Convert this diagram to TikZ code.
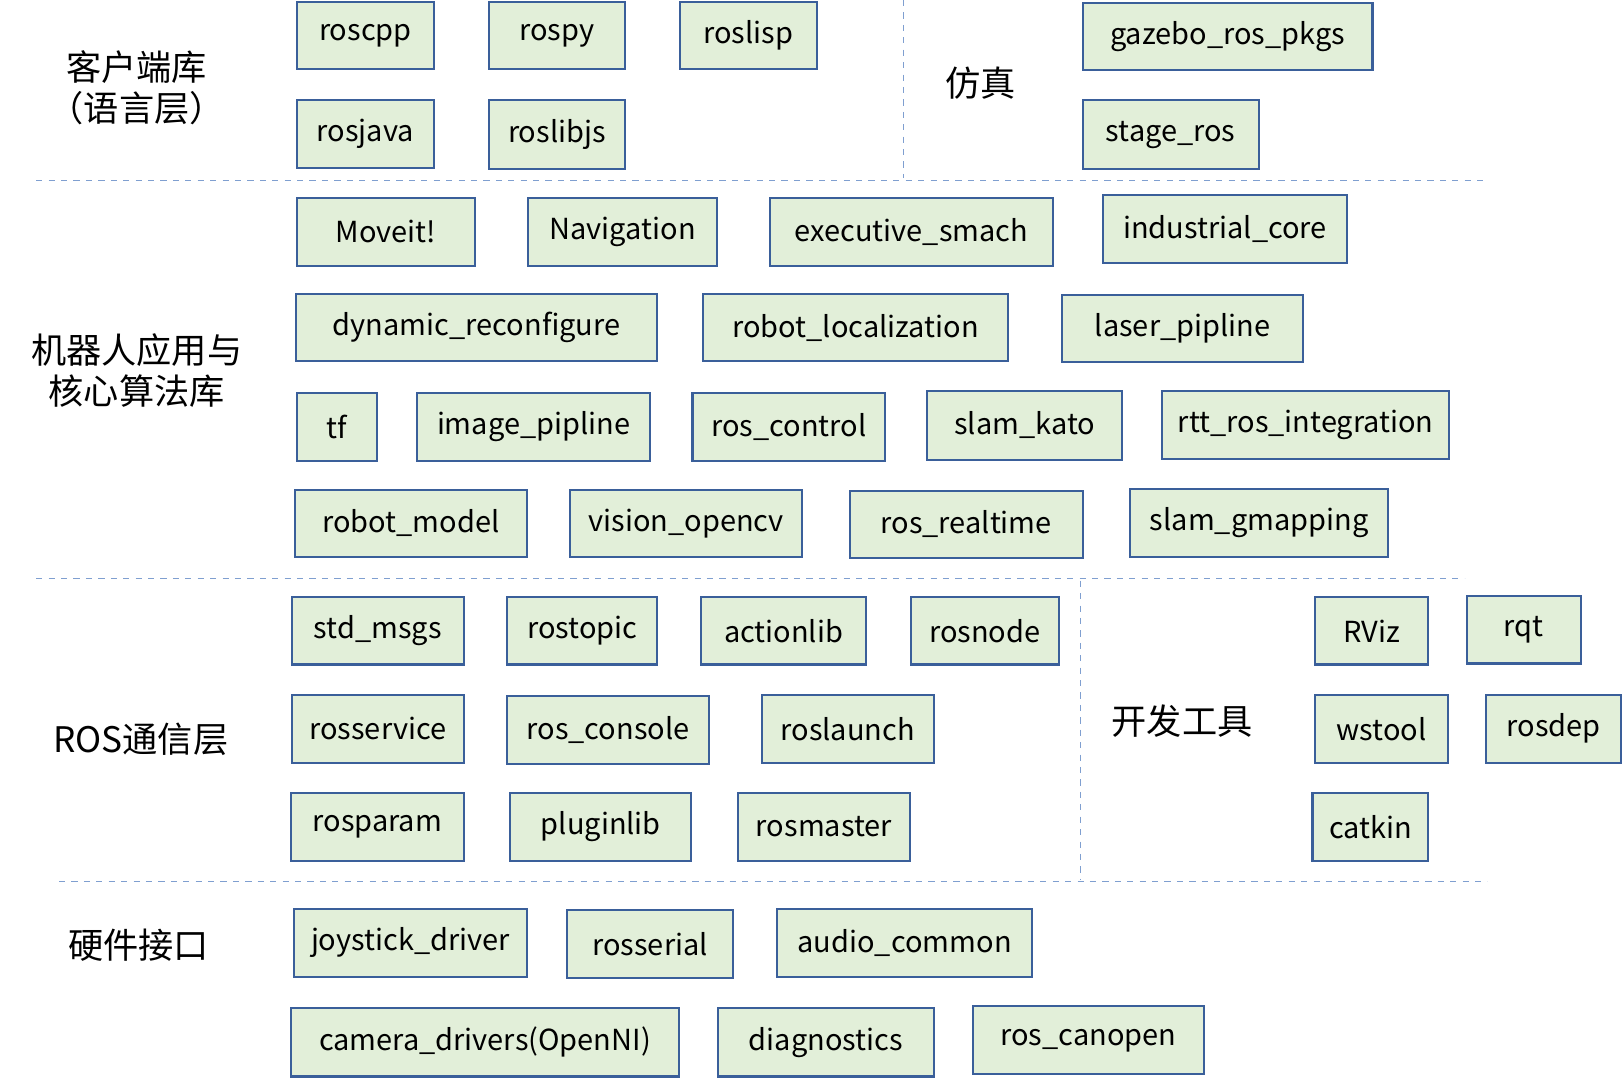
\documentclass[tikz,border=0pt]{standalone}
\usepackage{fontspec}
\setmainfont{Noto Sans CJK SC}
\definecolor{bfill}{HTML}{E2EFD9}
\definecolor{bdraw}{HTML}{3A5F9A}
\definecolor{dline}{HTML}{7F9FD0}
\tikzset{box/.style={draw=bdraw,fill=bfill,line width=1pt,inner sep=0pt,font=\fontsize{14}{16}\selectfont},
 sep/.style={draw=dline,dashed,line width=0.5pt},
 lab/.style={font=\fontsize{17}{20}\selectfont,align=center}}
\newcommand{\bx}[6]{\node[box,minimum width={(#4-#2)/2*1pt},minimum height={(#5-#3)/2*1pt}] (#1) at ({(#2+#4)/2},{(#3+#5)/2}) {#6};}
\begin{document}
\begin{tikzpicture}[x=0.5pt,y=-0.5pt]
\useasboundingbox (0,0) rectangle (1568,1047);
\coordinate (h1a) at (35,174); \coordinate (h1b) at (1433,174);
\coordinate (v1a) at (873,0); \coordinate (v1b) at (873,172);
\coordinate (h2a) at (35,559); \coordinate (h2b) at (1415,559);
\coordinate (v2a) at (1044,561); \coordinate (v2b) at (1044,850);
\coordinate (h3a) at (57,852); \coordinate (h3b) at (1437,852);
\draw[sep] (h1a)--(h1b); \draw[sep] (v1a)--(v1b); \draw[sep] (h2a)--(h2b);
\draw[sep] (v2a)--(v2b); \draw[sep] (h3a)--(h3b);
\node[lab] (l1) at (132,85) {客户端库\\（语言层）};
\node[lab] (l2) at (947,80) {仿真};
\node[lab] (l3) at (132,358) {机器人应用与\\核心算法库};
\node[lab] (l4) at (136,714) {ROS通信层};
\node[lab] (l5) at (1142,697) {开发工具};
\node[lab] (l6) at (134,913) {硬件接口};
\bx{a1}{287}{2}{419}{67}{roscpp}
\bx{a2}{472}{2}{604}{67}{rospy}
\bx{a3}{657}{2}{789}{67}{roslisp}
\bx{a4}{287}{97}{419}{162}{rosjava}
\bx{a5}{472}{97}{604}{163}{roslibjs}
\bx{a6}{1046}{3}{1326}{68}{gazebo\_ros\_pkgs}
\bx{a7}{1046}{97}{1216}{163}{stage\_ros}
\bx{b1}{287}{191}{459}{257}{Moveit!}
\bx{b2}{510}{191}{693}{257}{Navigation}
\bx{b3}{744}{191}{1017}{257}{executive\_smach}
\bx{b4}{1066}{188}{1301}{254}{industrial\_core}
\bx{b5}{286}{284}{635}{349}{dynamic\_reconfigure}
\bx{b6}{679}{284}{974}{349}{robot\_localization}
\bx{b7}{1026}{285}{1259}{350}{laser\_pipline}
\bx{b8}{287}{380}{364}{445}{tf}
\bx{b9}{403}{380}{628}{445}{image\_pipline}
\bx{b10}{669}{380}{855}{445}{ros\_control}
\bx{b11}{896}{378}{1084}{444}{slam\_kato}
\bx{b12}{1123}{378}{1400}{443}{rtt\_ros\_integration}
\bx{b13}{285}{473}{509}{538}{robot\_model}
\bx{b14}{551}{473}{775}{538}{vision\_opencv}
\bx{b15}{821}{474}{1046}{539}{ros\_realtime}
\bx{b16}{1092}{472}{1341}{538}{slam\_gmapping}
\bx{c1}{282}{577}{448}{642}{std\_msgs}
\bx{c2}{490}{577}{635}{642}{rostopic}
\bx{c3}{677}{577}{837}{642}{actionlib}
\bx{c4}{880}{577}{1023}{642}{rosnode}
\bx{c5}{282}{671}{448}{737}{rosservice}
\bx{c6}{490}{672}{685}{738}{ros\_console}
\bx{c7}{736}{671}{902}{737}{roslaunch}
\bx{c8}{281}{766}{448}{832}{rosparam}
\bx{c9}{493}{766}{668}{832}{pluginlib}
\bx{c10}{713}{766}{879}{832}{rosmaster}
\bx{d1}{1270}{577}{1380}{642}{RViz}
\bx{d2}{1417}{576}{1527}{641}{rqt}
\bx{d3}{1270}{671}{1399}{737}{wstool}
\bx{d4}{1436}{671}{1566}{737}{rosdep}
\bx{d5}{1268}{766}{1380}{832}{catkin}
\bx{e1}{284}{878}{509}{944}{joystick\_driver}
\bx{e2}{548}{879}{708}{945}{rosserial}
\bx{e3}{751}{878}{997}{944}{audio\_common}
\bx{e4}{281}{974}{656}{1040}{camera\_drivers(OpenNI)}
\bx{e5}{694}{974}{902}{1040}{diagnostics}
\bx{e6}{940}{972}{1163}{1038}{ros\_canopen}
\end{tikzpicture}
\end{document}
